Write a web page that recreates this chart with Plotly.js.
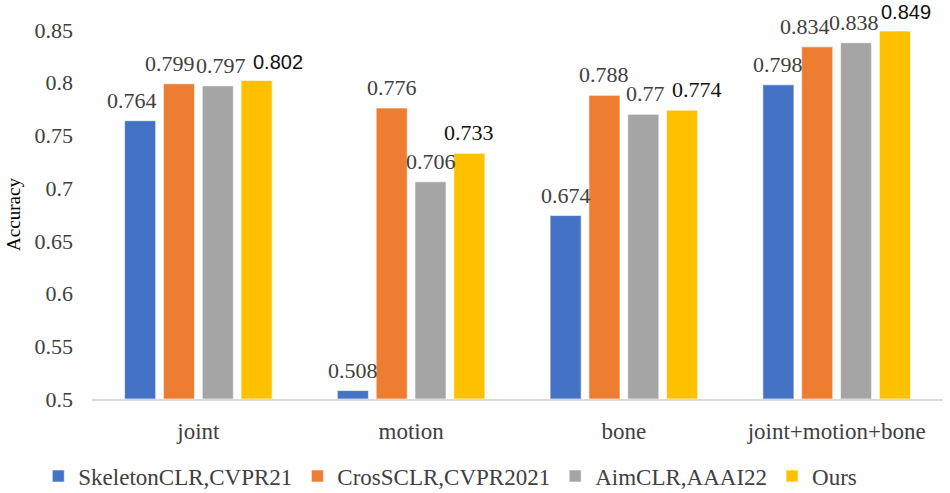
<!DOCTYPE html>
<html>
<head>
<meta charset="utf-8">
<script src="https://cdn.plot.ly/plotly-3.0.1.min.js"></script>
<style>
  html, body { margin: 0; padding: 0; background: #fff; }
  #chart { width: 950px; height: 493px; }
</style>
</head>
<body>
<div id="chart"></div>
<script>
var categories = ['joint', 'motion', 'bone', 'joint+motion+bone'];
var seriesNames = ['SkeletonCLR,CVPR21', 'CrosSCLR,CVPR2021', 'AimCLR,AAAI22', 'Ours'];
var skeletonclr = [0.764, 0.508, 0.674, 0.798];
var crossclr = [0.799, 0.776, 0.788, 0.834];
var aimclr = [0.797, 0.706, 0.77, 0.838];
var ours = [0.802, 0.733, 0.774, 0.849];
var colors = ['#4472C4', '#ED7D31', '#A5A5A5', '#FFC000'];
var tickVals = [0.5, 0.55, 0.6, 0.65, 0.7, 0.75, 0.8, 0.85];
var tickText = ['0.5', '0.55', '0.6', '0.65', '0.7', '0.75', '0.8', '0.85'];

var serif = 'Liberation Serif';
var allValues = [skeletonclr, crossclr, aimclr, ours];

// label nudges (px) so crowded value labels sit side by side like the original
var labelNudge = [
  [-8, 0, 0, 0],
  [-9, 0, 0, -12],
  [3, 0, 2, -2],
  [21, 0, 15, 11]
];

var W = 950, H = 493;
var margin = { l: 92, r: 7, t: 30, b: 94 };
var bargap = 0.27, bargroupgap = 0.2;
var catWidth = (W - margin.l - margin.r) / categories.length;
var slot = catWidth * (1 - bargap) / allValues.length;

var traces = allValues.map(function (vals, i) {
  return {
    type: 'bar',
    name: seriesNames[i],
    x: categories,
    y: vals.map(function (v) { return v - 0.5; }),
    base: 0.5,
    marker: { color: colors[i], line: { color: 'rgba(255,255,255,0.6)', width: 1 } },
    hoverinfo: 'x+y'
  };
});

var annotations = [];
allValues.forEach(function (vals, i) {
  vals.forEach(function (v, j) {
    var isOurs = i === 3;
    var sansLabel = isOurs && (j === 0 || j === 3);
    annotations.push({
      x: categories[j],
      y: v,
      xref: 'x',
      yref: 'y',
      text: String(v),
      showarrow: false,
      xanchor: 'center',
      yanchor: 'bottom',
      xshift: (i - 1.5) * slot + labelNudge[i][j],
      yshift: 6,
      font: {
        family: sansLabel ? 'Liberation Sans' : serif,
        size: sansLabel ? 20 : 22,
        color: isOurs ? '#111111' : '#404040'
      }
    });
  });
});

var layout = {
  width: W,
  height: H,
  margin: margin,
  paper_bgcolor: '#ffffff',
  plot_bgcolor: '#ffffff',
  barmode: 'group',
  bargap: bargap,
  bargroupgap: bargroupgap,
  font: { family: serif, color: '#404040', size: 22 },
  annotations: annotations,
  xaxis: {
    type: 'category',
    showgrid: false,
    zeroline: false,
    showline: true,
    linecolor: '#d9d9d9',
    linewidth: 1.5,
    ticks: '',
    tickfont: { family: serif, size: 23, color: '#404040' },
    ticklabelstandoff: 11,
    automargin: false
  },
  yaxis: {
    range: [0.5, 0.85],
    showgrid: false,
    zeroline: false,
    showline: false,
    tickmode: 'array',
    tickvals: tickVals,
    ticktext: tickText,
    ticks: '',
    tickfont: { family: serif, size: 22, color: '#404040' },
    ticklabelstandoff: 18,
    automargin: false,
    title: { text: 'Accuracy', font: { family: serif, size: 19, color: '#000000' }, standoff: 8 }
  },
  legend: {
    orientation: 'h',
    x: 0.474,
    xref: 'container',
    xanchor: 'center',
    y: 0.078,
    yref: 'container',
    yanchor: 'top',
    font: { family: serif, size: 23, color: '#404040' },
    itemwidth: 30,
    tracegroupgap: 0
  },
  showlegend: true
};

Plotly.newPlot('chart', traces, layout, { displayModeBar: false, staticPlot: true });
</script>
</body>
</html>
